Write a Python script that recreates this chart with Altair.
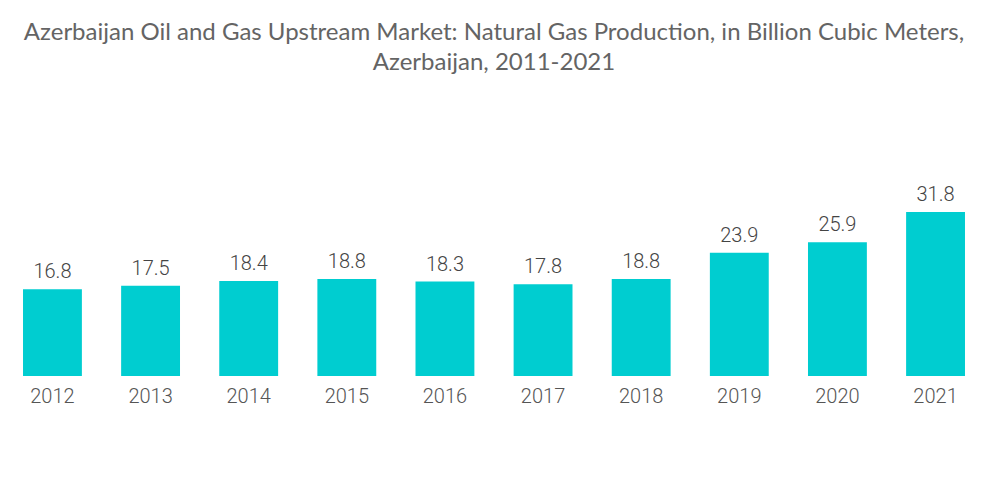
import altair as alt
import pandas as pd

years = ["2012", "2013", "2014", "2015", "2016", "2017", "2018", "2019", "2020", "2021"]
values = [16.8, 17.5, 18.4, 18.8, 18.3, 17.8, 18.8, 23.9, 25.9, 31.8]
title_lines = [
    "Azerbaijan Oil and Gas Upstream Market: Natural Gas Production, in Billion Cubic Meters,",
    "Azerbaijan, 2011-2021",
]

df = pd.DataFrame({"year": years, "value": values})

x = alt.X(
    "year:N",
    sort=years,
    title=None,
    scale=alt.Scale(paddingInner=0.4, paddingOuter=0.153),
    axis=alt.Axis(
        labelAngle=0,
        domain=False,
        ticks=False,
        labelFontSize=20,
        labelColor="#555555",
        labelFont="Roboto",
        labelFontWeight=300,
        labelPadding=10,
    ),
)
y = alt.Y("value:Q", scale=alt.Scale(domain=[0, 35]), axis=None)

bars = alt.Chart(df).mark_bar(color="#00CDD0").encode(x=x, y=y)
labels = alt.Chart(df).mark_text(
    baseline="alphabetic", dy=-11, fontSize=20, font="Roboto", fontWeight=300, color="#444444"
).encode(x=x, y=y, text=alt.Text("value:Q", format=".1f"))

chart = (
    alt.layer(bars, labels)
    .properties(
        width=972,
        height=180.6,
        background="white",
        title=alt.Title(
            text=title_lines,
            anchor="middle",
            fontSize=24,
            font="Lato",
            fontWeight="normal",
            color="#646464",
            offset=110,
            lineHeight=30,
        ),
        padding={"left": 0, "top": 187.4, "right": 12, "bottom": 40},
        autosize=alt.AutoSizeParams(type="none"),
    )
    .configure_view(strokeWidth=0, stroke="transparent")
)

chart.save("out.html", embed_options={"renderer": "svg", "actions": False})
